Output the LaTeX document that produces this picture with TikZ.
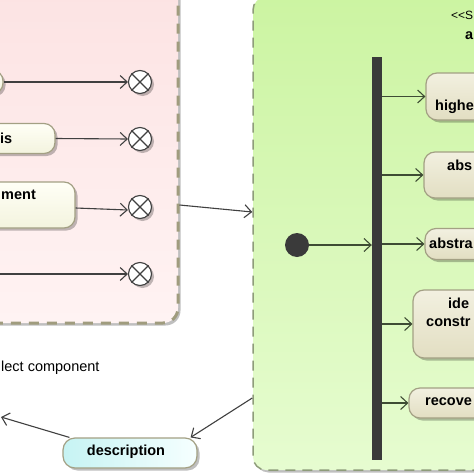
\documentclass[tikz,border=0pt]{standalone}
\usepackage{fontspec}
\setmainfont{Liberation Sans}
\usetikzlibrary{arrows.meta,shadows}
\definecolor{linegray}{HTML}{404040}
\definecolor{greenline}{HTML}{3E4C34}
\definecolor{pinkA}{HTML}{FCE2E2}
\definecolor{pinkB}{HTML}{FFF3F3}
\definecolor{pinkborder}{HTML}{A09C7E}
\definecolor{greenA}{HTML}{CCF4A2}
\definecolor{greenB}{HTML}{E6FCD0}
\definecolor{greenborder}{HTML}{8E9C7A}
\definecolor{beigeA}{HTML}{F2F0E0}
\definecolor{beigeB}{HTML}{E2DEC2}
\definecolor{beigeborder}{HTML}{A3A084}
\definecolor{creamA}{HTML}{FFFFF6}
\definecolor{creamB}{HTML}{F3F3DE}
\definecolor{cyanA}{HTML}{C6F3F3}
\definecolor{cyanB}{HTML}{F6FFFF}
\definecolor{barcol}{HTML}{3A3A3A}
\begin{document}
\begin{tikzpicture}[x=1pt,y=-1pt,
  big/.style={font=\fontsize{14.5}{17}\selectfont\bfseries, inner sep=0pt},
  plain/.style={font=\fontsize{14.5}{17}\selectfont, inner sep=0pt},
  small/.style={font=\fontsize{12}{14}\selectfont, inner sep=0pt},
  shad/.style={drop shadow={shadow xshift=2.5pt, shadow yshift=-2.5pt, fill=black, opacity=0.25}},
  pinkframe/.style={rectangle, rounded corners=15pt, draw=pinkborder, line width=3pt,
    dash pattern=on 10pt off 8pt, top color=pinkA, bottom color=pinkB, shad},
  greenframe/.style={rectangle, rounded corners=13pt, draw=greenborder, line width=1.5pt,
    dash pattern=on 10pt off 7pt, top color=greenA, bottom color=greenB, shad},
  act/.style={rectangle, rounded corners=11pt, draw=beigeborder, line width=1.2pt,
    top color=beigeA, bottom color=beigeB, shad, inner sep=0pt},
  lact/.style={rectangle, rounded corners=11pt, draw=beigeborder, line width=1.2pt,
    top color=creamA, bottom color=creamB, shad, inner sep=0pt},
  desc/.style={rectangle, rounded corners=12pt, draw=beigeborder, line width=1.2pt,
    left color=cyanA, right color=cyanB, shad, inner sep=0pt},
  ffinal/.style={circle, minimum size=23pt, inner sep=0pt, draw=linegray, line width=1.1pt,
    fill=white, shad},
  arr/.style={draw=linegray, line width=1.1pt, -{Straight Barb[length=7pt,width=13pt,line width=1.1pt]}},
  garr/.style={draw=greenline, line width=1.1pt, -{Straight Barb[length=7pt,width=13pt,line width=1.1pt]}},
]
\useasboundingbox (0,0) rectangle (474,474);
\clip (0,0) rectangle (474,474);
\fill[white] (0,0) rectangle (474,474);

% frames
\node[pinkframe, minimum width=218pt, minimum height=353pt] (lf) at (69,146.5) {};
\node[greenframe, minimum width=267pt, minimum height=473pt] (gf) at (386.5,233.5) {};

% left frame contents
\node[lact, minimum width=43pt, minimum height=24pt] (n1) at (-18.5,82) {};
\node[lact, minimum width=115pt, minimum height=30pt] (n2) at (-2.5,138.5) {};
\node[lact, minimum width=135pt, minimum height=46pt] (n3) at (7.5,205) {};
\node[big, anchor=east] (t2) at (12.5,138.5) {is};
\node[big, anchor=west] (t3) at (1,195) {ment};

\node[ffinal] (ff1) at (140,82) {};
\node[ffinal] (ff2) at (140,139) {};
\node[ffinal] (ff3) at (140,207) {};
\node[ffinal] (ff4) at (140,274) {};
\foreach \f in {ff1,ff2,ff3,ff4}{
  \draw[linegray, line width=1.1pt] (\f.north west) -- (\f.south east) (\f.north east) -- (\f.south west);
}
\coordinate (c4) at (-5,274);
\draw[arr] (n1.east) -- (ff1.west);
\draw[arr] (n2.east) -- (ff2.west);
\draw[arr] ([yshift=-3pt]n3.east) -- ([yshift=-3pt]ff3.west);
\draw[arr] (c4) -- (ff4.west);

% frame to frame
\draw[arr] ([yshift=-58.5pt]lf.east) -- ([yshift=21.5pt]gf.west);

% green frame contents
\node[small, anchor=west] (st) at (451,15) {{<}{<}S};
\node[big, anchor=west] (sa) at (465,36) {a};
\node[rectangle, fill=barcol, minimum width=10pt, minimum height=403pt, inner sep=0pt] (bar) at (377,258.5) {};
\node[circle, fill=barcol, minimum size=24pt, inner sep=0pt] (init) at (297,245) {};
\draw[garr] (init.east) -- (bar.west |- init.east);

\node[act, minimum width=80pt, minimum height=47pt] (a1) at (466,96.5) {};
\node[act, minimum width=80pt, minimum height=46pt] (a2) at (464,175) {};
\node[act, minimum width=80pt, minimum height=31pt] (a3) at (465,244) {};
\node[act, minimum width=80pt, minimum height=68pt] (a4) at (453,324) {};
\node[act, minimum width=80pt, minimum height=30pt] (a5) at (449,403) {};
\node[big, anchor=west] (b1) at (435,107) {highe};
\node[big, anchor=west] (b2) at (447,165) {abs};
\node[big, anchor=west] (b3) at (429,243) {abstra};
\node[big, anchor=west] (b4) at (448,303) {ide};
\node[big, anchor=west] (b4b) at (426,322) {constr};
\node[big, anchor=west] (b5) at (425,402) {recove};
\foreach \a in {a1,a2,a3,a4,a5}{
  \draw[garr] (bar.east |- \a.west) -- (\a.west);
}

% bottom
\node[plain, anchor=west] (lc) at (1,368) {lect component};
\node[desc, minimum width=134pt, minimum height=30pt] (d) at (130,453) {};
\node[big] (dt) at (126,452) {description};
\coordinate (dl) at (1,417);
\draw[arr] ([xshift=7pt]d.north west) -- (dl);
\draw[arr] ([yshift=-164.5pt]gf.west) -- ([xshift=-7pt]d.north east);
\end{tikzpicture}
\end{document}
